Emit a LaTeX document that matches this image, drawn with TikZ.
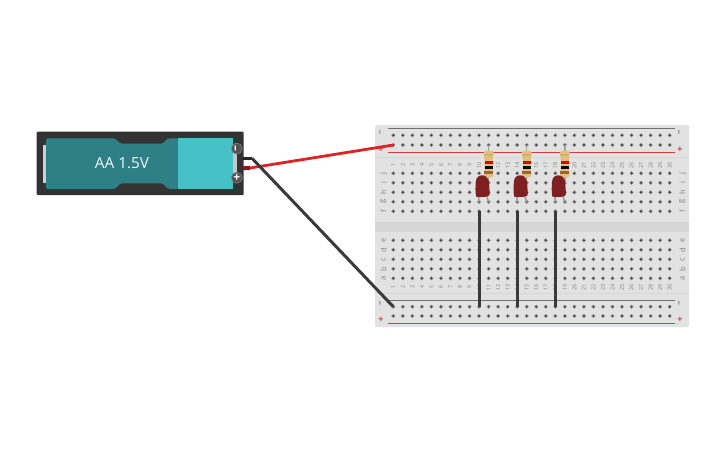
\documentclass[tikz,border=0pt]{standalone}
\usepackage{fontspec}
\setmainfont{Open Sans}
\definecolor{boardc}{HTML}{E2E2E2}
\definecolor{channel}{HTML}{D6D6D6}
\definecolor{railsep}{HTML}{D8D8D8}
\definecolor{holec}{HTML}{3C3C3C}
\definecolor{labelc}{HTML}{808080}
\definecolor{railred}{HTML}{D04040}
\definecolor{raildark}{HTML}{707070}
\definecolor{wiredark}{HTML}{3A3A3A}
\definecolor{wirered}{HTML}{E02222}
\definecolor{case}{HTML}{333333}
\definecolor{tealdark}{HTML}{2F7F87}
\definecolor{teallight}{HTML}{45C1C7}
\definecolor{ledred}{HTML}{7E1F22}
\definecolor{restan}{HTML}{DFC07E}
\definecolor{legc}{HTML}{A0A0A0}
\tikzset{
  hole/.style={circle,fill=holec,draw=holec!40!boardc,line width=.5pt,inner sep=0pt,minimum size=3.5pt},
  lbl/.style={text=labelc,font=\fontsize{5.4}{5.4}\selectfont,inner sep=0pt,rotate=90},
  letter/.style={text=labelc,font=\fontsize{7.5}{7.5}\selectfont,inner sep=0pt,rotate=90},
  sign/.style={font=\fontsize{9}{9}\selectfont\bfseries,inner sep=0pt},
  wire/.style={line width=3pt,draw=wiredark},
  redwire/.style={line width=2.8pt,draw=wirered},
  leg/.style={line width=1.5pt,draw=legc},
  term/.style={circle,fill=case!85!white,draw=case!60!white,line width=.6pt,minimum size=11pt,inner sep=0pt,text=white,font=\fontsize{12}{12}\selectfont\bfseries},
}
\begin{document}
\begin{tikzpicture}[x=1pt,y=-1pt]
\useasboundingbox (0,0) rectangle (725,453);
% breadboard
\node[rectangle,rounded corners=1.5pt,fill=boardc,minimum width=314pt,minimum height=202pt,inner sep=0pt] (board) at (532,226) {};
\fill[railsep] (375,156.5) rectangle (689,158);
\fill[railsep] (375,292.5) rectangle (689,294);
\node[rectangle,fill=channel,minimum width=314pt,minimum height=10pt,inner sep=0pt] (chan) at (532,227) {};
\fill[raildark] (388,128.4) rectangle (675,129.4);
\fill[railred] (388,152) rectangle (675,153);
\fill[raildark] (388,299.5) rectangle (675,300.5);
\fill[railred] (388,323) rectangle (675,324);
\foreach \x/\n in {381/L,680/R}{
  \node[sign,text=labelc] (mt\n) at (\x,132) {\rotatebox{90}{–}};
  \node[sign,text=railred] (pt\n) at (\x,149.8) {+};
  \node[sign,text=labelc] (mb\n) at (\x,303) {\rotatebox{90}{–}};
  \node[sign,text=railred] (pb\n) at (\x,320) {+};
  \foreach \y/\t in {173.3/j,182.8/i,192.3/h,201.8/g,211.3/f,240.3/e,249.8/d,259.3/c,268.8/b,278.3/a}
    \node[letter] (r\t\n) at (\x+2.5,\y) {\t};
}
\foreach \i in {1,...,30}{
  \pgfmathsetmacro{\cx}{393.3+9.53*(\i-1)}
  \node[lbl] (nt\i) at (\cx,165) {\i};
  \node[lbl] (nb\i) at (\cx,287) {\i};
  \foreach \y/\t in {135.3/A,145/B,173.3/j,182.8/i,192.3/h,201.8/g,211.3/f,240.3/e,249.8/d,259.3/c,268.8/b,278.3/a,306.7/C,316/D}
    \node[hole] (h\t\i) at (\cx,\y) {};
}
% battery
\node[rectangle,rounded corners=1pt,fill=case,minimum width=207pt,minimum height=63.5pt,inner sep=0pt] (battery) at (140.2,163.4) {};
\fill[legc!50!white] (43.3,145) rectangle (46.5,183);
\fill[tealdark,rounded corners=1.5pt] (46,138.3) -- (115,138.3) -- (120.5,143.7) -- (162.5,143.7) -- (168,138.3) -- (178.5,138.3) -- (178.5,189) -- (168,189) -- (162.5,183.3) -- (120.5,183.3) -- (115,189) -- (46,189) -- cycle;
\fill[teallight] (178.3,138.3) -- (232.7,138.3) -- (232.7,189) -- (178.3,189) -- cycle;
\fill[legc!60!white] (233.2,153) rectangle (236.8,173);
\node[term] (minus) at (236.7,148.6) {\rotatebox{90}{–}};
\node[term] (plus) at (236.7,177.7) {+};
\node[text=white!92!teallight,font=\fontsize{15.3}{15.3}\selectfont,inner sep=0pt] (blabel) at (122,163) {AA 1.5V};
\coordinate (negend) at (252,158.3);
\coordinate (posend) at (250,168);
\coordinate (negt) at (243,158.3);
\coordinate (post) at (243,168.3);
% wires
\draw[redwire] (posend) -- (hB1.center);
\draw[wire] (negend) -- (hC1.center);
\draw[line width=3.4pt,draw=black!85] (negt) -- (negend);
\draw[line width=4pt,draw=wirered!65!black] (post) -- (posend);
\draw[wire] (hf10.center) -- (hC10.center);
\draw[wire] (hf14.center) -- (hC14.center);
\draw[wire] (hf18.center) -- (hC18.center);
% resistors and LEDs
\foreach \a/\b/\c/\k in {10/11/B11/1,14/15/B15/2,18/19/B19/3}{
  \draw[leg] (hB\b.center) -- (hi\b.center);
  \begin{scope}[shift={(h\c.center)}]
    \fill[restan,rounded corners=2pt] (-4.7,5.7) -- (4.7,5.7) -- (4.7,11) -- (3.9,14) -- (3.9,26) -- (4.7,28) -- (4.7,32.3) -- (-4.7,32.3) -- (-4.7,28) -- (-3.9,26) -- (-3.9,14) -- (-4.7,11) -- cycle;
    \fill[restan!75!brown] (-4.5,9) rectangle (4.5,10.8);
    \fill[red!90!black] (-3.9,16.3) rectangle (3.9,19);
    \fill[black] (-3.9,21.3) rectangle (3.9,24);
    \fill[brown!80!black] (-4.5,26.3) rectangle (4.5,29);
  \end{scope}
  \draw[leg] (hg\a.center) -- ++(-0.5,-6);
  \draw[leg] (hg\b.center) -- ++(-2.5,-7);
  \begin{scope}[shift={(hg\a.center)}]
    \fill[ledred] (-3,-5.3) .. controls (-4,-10) and (-3.5,-16) .. (-3.3,-20) .. controls (-3,-29) and (10,-29) .. (10,-18) -- (10.6,-9) .. controls (11,-5.3) and (8,-5) .. (6,-5) .. controls (3,-4.6) and (-1,-4.6) .. (-3,-5.3) -- cycle;
  \end{scope}
}
\end{tikzpicture}
\end{document}
